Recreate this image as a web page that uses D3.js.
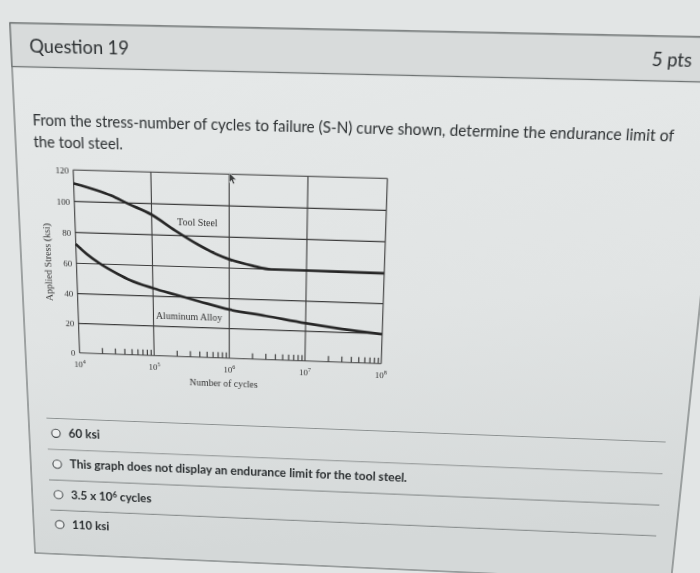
<!DOCTYPE html>
<html>
  <head>
    <meta charset="utf-8" />
    <title>Question 19 - S-N curve</title>
    <style>
      html,
      body {
        margin: 0;
        padding: 0;
        width: 700px;
        height: 573px;
        overflow: hidden;
        background-color: #dfe2e2;
      }

      #page {
        position: absolute;
        left: 0;
        top: 0;
        transform-origin: 0 0;
      }

      .quiz {
        font-family: "Lato", "Noto Sans", sans-serif;
        fill: #2c3032;
      }

      .chart text {
        font-family: "Liberation Serif", "DejaVu Serif", serif;
        fill: #333;
      }
    </style>
  </head>

  <body>
    <div id="page"></div>
    <script src="https://d3js.org/d3.v7.min.js"></script>
    <script>
      // values
      var toolCycles = [1e4, 2e4, 3e4, 5e4, 1e5, 2e5, 4e5, 7e5, 1e6, 2e6, 3.5e6, 1e7, 1e8];
      var toolStress = [111.5, 107.5, 104.5, 99.5, 93, 83.3, 74.5, 68.5, 65.7, 62, 60, 60, 59.8];

      var alloyCycles = [1e4, 1.4e4, 2e4, 3.5e4, 5e4, 1e5, 2e5, 4e5, 1e6, 3e6, 1e7, 3e7, 1e8];
      var alloyStress = [72.5, 66, 60.5, 53.7, 50, 45.2, 41.3, 37.5, 32.7, 29.3, 25.3, 22.3, 19.7];

      var stressTicks = [0, 20, 40, 60, 80, 100, 120];
      var cycleDecades = [1e4, 1e5, 1e6, 1e7, 1e8];
      var seriesNames = ["Tool Steel", "Aluminum Alloy"];

      var answers = [
        "60 ksi",
        "This graph does not display an endurance limit for the tool steel.",
        "3.5 x 10^6 cycles",
        "110 ksi"
      ];

      // flat page size (the card), padding round it
      var pad = 40;
      var cardW = 680;
      var cardH = 550;

      // the photo sees the card in perspective: card corners -> photo corners
      var flatCorners = [[pad, pad], [pad + cardW, pad], [pad, pad + cardH], [pad + cardW, pad + cardH]];
      var photoCorners = [[10, 23], [728, 37.6], [35, 553], [671, 581.6]];

      function solveHomography(src, dst) {
        var A = [], b = [];
        for (var i = 0; i < 4; i++) {
          var x = src[i][0], y = src[i][1], X = dst[i][0], Y = dst[i][1];
          A.push([x, y, 1, 0, 0, 0, -x * X, -y * X]); b.push(X);
          A.push([0, 0, 0, x, y, 1, -x * Y, -y * Y]); b.push(Y);
        }
        for (var c = 0; c < 8; c++) {
          var p = c;
          for (var r = c + 1; r < 8; r++) if (Math.abs(A[r][c]) > Math.abs(A[p][c])) p = r;
          var t = A[c]; A[c] = A[p]; A[p] = t;
          t = b[c]; b[c] = b[p]; b[p] = t;
          for (var r2 = c + 1; r2 < 8; r2++) {
            var f = A[r2][c] / A[c][c];
            for (var k = c; k < 8; k++) A[r2][k] -= f * A[c][k];
            b[r2] -= f * b[c];
          }
        }
        var h = new Array(8);
        for (var c2 = 7; c2 >= 0; c2--) {
          var s = b[c2];
          for (var k2 = c2 + 1; k2 < 8; k2++) s -= A[c2][k2] * h[k2];
          h[c2] = s / A[c2][c2];
        }
        return h;
      }

      var h = solveHomography(flatCorners, photoCorners);
      var m3d = [h[0], h[3], 0, h[6], h[1], h[4], 0, h[7], 0, 0, 1, 0, h[2], h[5], 0, 1];

      var page = d3.select("#page")
        .style("width", (cardW + 2 * pad) + "px")
        .style("height", (cardH + 2 * pad) + "px")
        .style("transform", "matrix3d(" + m3d.join(",") + ")");

      var svg = page.append("svg")
        .attr("width", cardW + 2 * pad)
        .attr("height", cardH + 2 * pad);

      var defs = svg.append("defs");
      var grad = defs.append("linearGradient")
        .attr("id", "shade")
        .attr("x1", 0).attr("y1", 0).attr("x2", 0.15).attr("y2", 1);
      grad.append("stop").attr("offset", 0).attr("stop-color", "#e6e9e9");
      grad.append("stop").attr("offset", 0.55).attr("stop-color", "#e1e4e4");
      grad.append("stop").attr("offset", 1).attr("stop-color", "#d4d8d8");

      svg.append("rect")
        .attr("width", cardW + 2 * pad)
        .attr("height", cardH + 2 * pad)
        .attr("fill", "#e2e5e5");

      var card = svg.append("g")
        .attr("class", "quiz")
        .attr("transform", "translate(" + pad + "," + pad + ")");

      // card body and header
      var headerH = 40.5;
      card.append("rect")
        .attr("width", cardW)
        .attr("height", cardH)
        .attr("fill", "url(#shade)")
        .attr("stroke", "#6e7373")
        .attr("stroke-width", 1.2);

      card.append("rect")
        .attr("width", cardW)
        .attr("height", headerH)
        .attr("fill", "#d8dbdb")
        .attr("stroke", "#6e7373")
        .attr("stroke-width", 1.2);

      card.append("text")
        .attr("x", 18)
        .attr("y", 27)
        .style("font-size", "17.8px")
        .text("Question 19");

      card.append("text")
        .attr("x", 612)
        .attr("y", 27)
        .style("font-size", "17px")
        .text("5 pts");

      card.selectAll(".prompt")
        .data([
          "From the stress-number of cycles to failure (S-N) curve shown, determine the endurance limit of",
          "the tool steel."
        ])
        .enter()
        .append("text")
        .attr("class", "prompt")
        .attr("x", 18)
        .attr("y", function (d, i) { return 96 + i * 21; })
        .style("font-size", "14.85px")
        .text(function (d) { return d; });

      // ---- the chart ----
      var chartLeft = 56.7, chartTop = 138.25, chartW = 311, chartH = 186.5;

      var chart = card.append("g").attr("class", "chart");

      var x = d3.scaleLog()
        .domain([1e4, 1e8])
        .range([chartLeft, chartLeft + chartW]);

      var y = d3.scaleLinear()
        .domain([0, 120])
        .range([chartTop + chartH, chartTop]);

      var gridColor = "#3d3d3d";

      chart.selectAll(".hgrid")
        .data(stressTicks)
        .enter()
        .append("line")
        .attr("class", "hgrid")
        .attr("x1", x(1e4))
        .attr("x2", x(1e8))
        .attr("y1", function (d) { return y(d); })
        .attr("y2", function (d) { return y(d); })
        .attr("stroke", gridColor)
        .attr("stroke-width", 1.1);

      chart.selectAll(".vgrid")
        .data(cycleDecades)
        .enter()
        .append("line")
        .attr("class", "vgrid")
        .attr("x1", function (d) { return x(d); })
        .attr("x2", function (d) { return x(d); })
        .attr("y1", y(0))
        .attr("y2", y(120))
        .attr("stroke", gridColor)
        .attr("stroke-width", 1.1);

      // minor log ticks standing up from the bottom line
      var minorTicks = x.ticks().filter(function (d) {
        return cycleDecades.indexOf(d) < 0;
      });

      chart.append("g")
        .attr("transform", "translate(0," + y(0) + ")")
        .call(d3.axisTop(x).tickValues(minorTicks).tickSize(6).tickFormat(""))
        .call(function (g) { g.select(".domain").remove(); })
        .selectAll("line")
        .attr("stroke", gridColor)
        .attr("stroke-width", 1.2);

      // stress labels
      var yAxis = chart.append("g")
        .attr("transform", "translate(" + x(1e4) + ",0)")
        .call(d3.axisLeft(y).tickValues(stressTicks).tickSize(0).tickPadding(4.5));
      yAxis.select(".domain").remove();
      yAxis.attr("font-family", null).attr("font-size", null);
      yAxis.selectAll("text").style("font-size", "9px");

      // cycle labels with superscript exponent
      var xLab = chart.selectAll(".xlab")
        .data(cycleDecades)
        .enter()
        .append("text")
        .attr("class", "xlab")
        .attr("x", function (d) { return x(d); })
        .attr("y", y(0) + 15)
        .attr("text-anchor", "middle")
        .style("font-size", "9px");
      xLab.append("tspan").text("10");
      xLab.append("tspan")
        .attr("dy", -3.6)
        .style("font-size", "6.2px")
        .text(function (d) { return Math.round(Math.log10(d)); });

      chart.append("text")
        .attr("x", x(1e6) - 6)
        .attr("y", y(0) + 30)
        .attr("text-anchor", "middle")
        .style("font-size", "10px")
        .text("Number of cycles");

      chart.append("text")
        .attr("transform", "translate(" + (x(1e4) - 26) + "," + y(60) + ") rotate(-90)")
        .attr("text-anchor", "middle")
        .style("font-size", "10px")
        .text("Applied Stress (ksi)");

      // curves
      var line = d3.line()
        .x(function (d) { return x(d[0]); })
        .y(function (d) { return y(d[1]); })
        .curve(d3.curveMonotoneX);

      var series = [d3.zip(toolCycles, toolStress), d3.zip(alloyCycles, alloyStress)];

      chart.selectAll(".curve")
        .data(series)
        .enter()
        .append("path")
        .attr("class", "curve")
        .attr("d", line)
        .attr("fill", "none")
        .attr("stroke", "#262626")
        .attr("stroke-width", 2.7);

      // curve names, anchored in data space
      var nameAt = [[Math.pow(10, 5.59), 88.7], [Math.pow(10, 5.47), 27.2]];
      chart.selectAll(".name")
        .data(seriesNames)
        .enter()
        .append("text")
        .attr("class", "name")
        .attr("x", function (d, i) { return x(nameAt[i][0]); })
        .attr("y", function (d, i) { return y(nameAt[i][1]); })
        .attr("dy", "0.35em")
        .attr("text-anchor", "middle")
        .style("font-size", "10px")
        .text(function (d) { return d; });

      // mouse pointer resting on the top edge
      chart.append("path")
        .attr("transform", "translate(" + x(1e6) + "," + y(121) + ") scale(0.85)")
        .attr("d", "M0,0 L0,11.5 L2.7,8.8 L4.6,12.8 L6.3,12 L4.5,8.1 L8.2,8.1 Z")
        .attr("fill", "#3b3d3e")
        .attr("stroke", "#d0d3d3")
        .attr("stroke-width", 0.6);

      // ---- answer options ----
      var firstRule = 396.5, rowH = 34.3;

      var opt = card.selectAll(".opt")
        .data(answers)
        .enter()
        .append("g")
        .attr("class", "opt")
        .attr("transform", function (d, i) { return "translate(0," + (firstRule + i * rowH) + ")"; });

      opt.append("line")
        .attr("x1", 19)
        .attr("x2", 660)
        .attr("stroke", "#8c9191")
        .attr("stroke-width", 1.1);

      opt.append("circle")
        .attr("cx", 28.5)
        .attr("cy", 16.3)
        .attr("r", 4.6)
        .attr("fill", "#eceeee")
        .attr("stroke", "#3f4345")
        .attr("stroke-width", 1.1);

      opt.append("text")
        .attr("x", 42)
        .attr("y", 20.5)
        .style("font-size", "12.6px")
        .style("font-weight", "bold")
        .each(function (d) {
          var parts = d.split(/\^(\d+)/);
          var t = d3.select(this);
          parts.forEach(function (p, i) {
            if (!p) return;
            if (i % 2 === 1) {
              t.append("tspan").attr("dy", -4).style("font-size", "8.4px").text(p);
            } else {
              t.append("tspan").attr("dy", i > 0 ? 4 : 0).text(p);
            }
          });
        });
    </script>
  </body>
</html>
